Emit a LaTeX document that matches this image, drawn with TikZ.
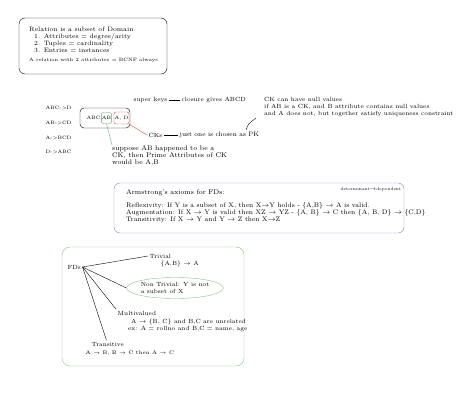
\documentclass[tikz,border=0pt]{standalone}
\usepackage{tikz}
\usepackage{amsmath}
\usetikzlibrary{shapes.geometric}
\definecolor{ckred}{RGB}{205,80,90}
\definecolor{ckgreen}{RGB}{100,170,110}
\definecolor{axblue}{RGB}{120,145,185}
\definecolor{fdgreen}{RGB}{140,195,135}

\begin{document}
\begin{tikzpicture}[x=1pt,y=-1pt,line width=0.4pt,
    note/.style={anchor=west,inner sep=1.5pt,font=\fontsize{6}{7}\selectfont},
    small/.style={font=\fontsize{4.8}{6}\selectfont},
    block/.style={anchor=north west,align=left,inner sep=0pt,font=\fontsize{6}{7}\selectfont}]
  \useasboundingbox (0,0) rectangle (474,401);

  % relation basics
  \draw[rounded corners=6pt] (19,18) rectangle (167,74);
  \node[block,font=\fontsize{6.3}{7}\selectfont] (relation) at (29,27) {Relation is a subset of Domain\\
    \hspace{5pt}1. Attributes = degree/arity\\
    \hspace{5pt}2. Tuples = cardinality\\
    \hspace{5pt}3. Entries = instances};
  \node[note,small,inner sep=0pt] (bcnf) at (29,60) {A relation with 2 attributes = BCNF always};

  % functional dependencies
  \node[note,small] (fdA) at (44,108) {ABC->D};
  \node[note,small] (fdB) at (44,123) {AB->CD};
  \node[note,small] (fdC) at (44,138) {A->BCD};
  \node[note,small] (fdD) at (44,152) {D->ABC};

  % keys
  \draw[rounded corners=4pt] (80,108) rectangle (130,128);
  \node[note,small,inner sep=0pt] (abc) at (86.5,118) {ABC,};
  \node[note,small,draw=ckgreen,rounded corners=2pt,anchor=center,minimum width=10pt,minimum height=11pt,inner sep=0.5pt] (ab) at (106.5,118) {AB};
  \node[note,small,draw=ckred,rounded corners=2pt,anchor=center,minimum width=15pt,minimum height=12pt,inner sep=0.5pt] (ad) at (121.5,118) {A, D};

  \node[note] (superkeys) at (132,100) {super keys};
  \node[note] (closure) at (180,100) {closure gives ABCD};
  \draw (superkeys) -- (closure);

  \node[note] (cks) at (147,135) {CKs};
  \node[note,font=\fontsize{6.5}{7}\selectfont] (pk) at (178,135) {just one is chosen as PK};
  \draw (cks) -- (pk);
  \draw[ckred] (ad.south east) -- (cks.west);

  \node[block,font=\fontsize{6.8}{7.2}\selectfont] (suppose) at (112,145) {suppose AB happened to be a\\
    CK, then Prime Attributes of CK\\
    would be A,B};
  \draw[ckgreen] (ab.south) -- (suppose.north west);

  \node[block] (nullval) at (264,97) {CK can have null values\\
    if AB is a CK, and B attribute contains null values\\
    and A does not, but together satisfy uniqueness constraint};
  \coordinate (nullA) at (246,130);
  \coordinate (nullB) at (256,118);
  \draw (nullA) .. controls (248,124) .. (nullB);

  % Armstrong's axioms
  \draw[axblue,rounded corners=6pt] (114,183) rectangle (404,233);
  \node[note,font=\fontsize{6.8}{7}\selectfont,inner sep=0pt] (armstrong) at (126,193) {Armstrong's axioms for FDs:};
  \node[note,font=\fontsize{4}{5}\selectfont] (detdep) at (339,189) {determinant$\to$dependent};
  \node[block,font=\fontsize{6.6}{7.2}\selectfont] (axioms) at (126,202) {Reflexivity: If Y is a subset of X, then X$\to$Y holds - \{A,B\} $\to$ A is valid.\\
    Augmentation: If X $\to$ Y is valid then XZ $\to$ YZ - \{A, B\} $\to$ C then \{A, B, D\} $\to$ \{C,D\}\\
    Transitivity: If X $\to$ Y and Y $\to$ Z then X$\to$Z};

  % kinds of FDs
  \draw[fdgreen,rounded corners=8pt] (62,247) rectangle (244,366);
  \node[note] (fds) at (66,267) {FDs};
  \node[note] (trivial) at (148,256) {Trivial};
  \node[note] (trivialex) at (159,264) {\{A,B\} $\to$ A};
  \node[ellipse,draw=fdgreen,align=left,inner sep=0pt,minimum width=79pt,minimum height=21pt,
    font=\fontsize{6}{7}\selectfont] (nontrivial) at (175,288) {Non Trivial: Y is not\\a subset of X};
  \node[note] (multi) at (116,313) {Multivalued};
  \node[block] (multiex) at (128,319) {\hspace{3pt}A $\to$ \{B, C\} and B,C are unrelated\\
    ex: A = rollno and B,C = name, age};
  \node[note] (transitive) at (90,344) {Transitive};
  \node[note,font=\fontsize{5.2}{6}\selectfont] (transex) at (84,353) {A $\to$ B, B $\to$ C then A $\to$ C};
  \draw (fds.east) -- (trivial.west);
  \draw (fds.east) -- (nontrivial.west);
  \draw (fds.east) -- (multi.north west);
  \draw (fds.east) -- (transitive.110);
\end{tikzpicture}
\end{document}
